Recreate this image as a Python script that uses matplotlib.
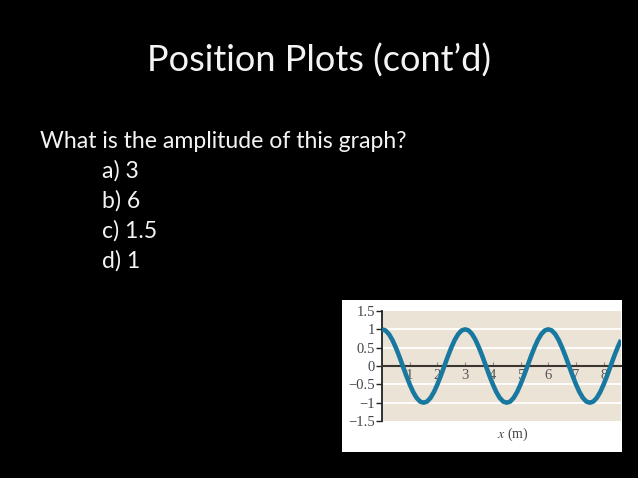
import matplotlib
matplotlib.use('Agg')
import matplotlib.pyplot as plt
import numpy as np
from matplotlib.patches import Rectangle

title = 'Position Plots (cont\u2019d)'
question = 'What is the amplitude of this graph?'
choices = ['a) 3', 'b) 6', 'c) 1.5', 'd) 1']

# position every 0.125 m
pos = [1, 0.97, 0.87, 0.71, 0.5, 0.26, 0, -0.26, -0.5, -0.71, -0.87, -0.97,
       -1, -0.97, -0.87, -0.71, -0.5, -0.26, 0, 0.26, 0.5, 0.71, 0.87, 0.97,
       1, 0.97, 0.87, 0.71, 0.5, 0.26, 0, -0.26, -0.5, -0.71, -0.87, -0.97,
       -1, -0.97, -0.87, -0.71, -0.5, -0.26, 0, 0.26, 0.5, 0.71, 0.87, 0.97,
       1, 0.97, 0.87, 0.71, 0.5, 0.26, 0, -0.26, -0.5, -0.71, -0.87, -0.97,
       -1, -0.97, -0.87, -0.71, -0.5, -0.26, 0, 0.26, 0.5, 0.71]
x_m = np.linspace(0, 8.625, len(pos))

y_ticks = [1.5, 1, 0.5, 0, -0.5, -1, -1.5]
y_labels = ['1.5', '1', '0.5', '0', '\u22120.5', '\u22121', '\u22121.5']
x_ticks = [1, 2, 3, 4, 5, 6, 7, 8]

W, H = 638, 478
fig = plt.figure(figsize=(W / 100, H / 100), dpi=100, facecolor='black')

fig.text(319 / W, 1 - 72 / H, title, color='#f4f4f4', family='Lato',
         fontsize=26, ha='center', va='baseline')
fig.text(40 / W, 1 - 148 / H, question, color='#f4f4f4', family='Lato',
         fontsize=16.6, ha='left', va='baseline')
for i, c in enumerate(choices):
    fig.text(102 / W, 1 - (178 + 30 * i) / H, c, color='#f4f4f4', family='Lato',
             fontsize=16.6, ha='left', va='baseline')

# white card behind the graph
fig.add_artist(Rectangle((342 / W, 1 - 452 / H), 280 / W, 152 / H,
                         transform=fig.transFigure, facecolor='white',
                         edgecolor='none', zorder=0))

ax = fig.add_axes([382 / W, 1 - 421 / H, 239 / W, 110 / H])
ax.set_facecolor('#ebe4d6')
ax.set_xlim(0, 8.625)
ax.set_ylim(-1.5, 1.5)

for y in [1, 0.5, -0.5, -1]:
    ax.axhline(y, color='white', lw=1.3, zorder=1)

ax.plot(x_m, pos, color='#18789f', lw=3.3, solid_capstyle='butt', zorder=3)

for s in ['top', 'right']:
    ax.spines[s].set_visible(False)
ax.spines['left'].set_color('#222222')
ax.spines['left'].set_linewidth(1.3)
ax.spines['bottom'].set_position(('data', 0))
ax.spines['bottom'].set_color('#3b3631')
ax.spines['bottom'].set_linewidth(1.5)

ax.set_yticks(y_ticks)
ax.set_yticklabels(y_labels, family='Liberation Serif', fontsize=10.5, color='#444444')
ax.tick_params(axis='y', length=4, width=1, color='#222222', pad=1)
ax.set_xticks(x_ticks)
ax.set_xticklabels([str(t) for t in x_ticks], family='Liberation Serif',
                   fontsize=10.5, color='#555555')
ax.tick_params(axis='x', direction='in', length=3, width=0.8, color='#888888', pad=2)

fig.text(513 / W, 1 - 434 / H, r'$x$ (m)', family='Liberation Serif',
         fontsize=10, color='#444444', ha='center', va='center',
         math_fontfamily='stix')

fig.savefig('out.png', dpi=100, facecolor='black')
